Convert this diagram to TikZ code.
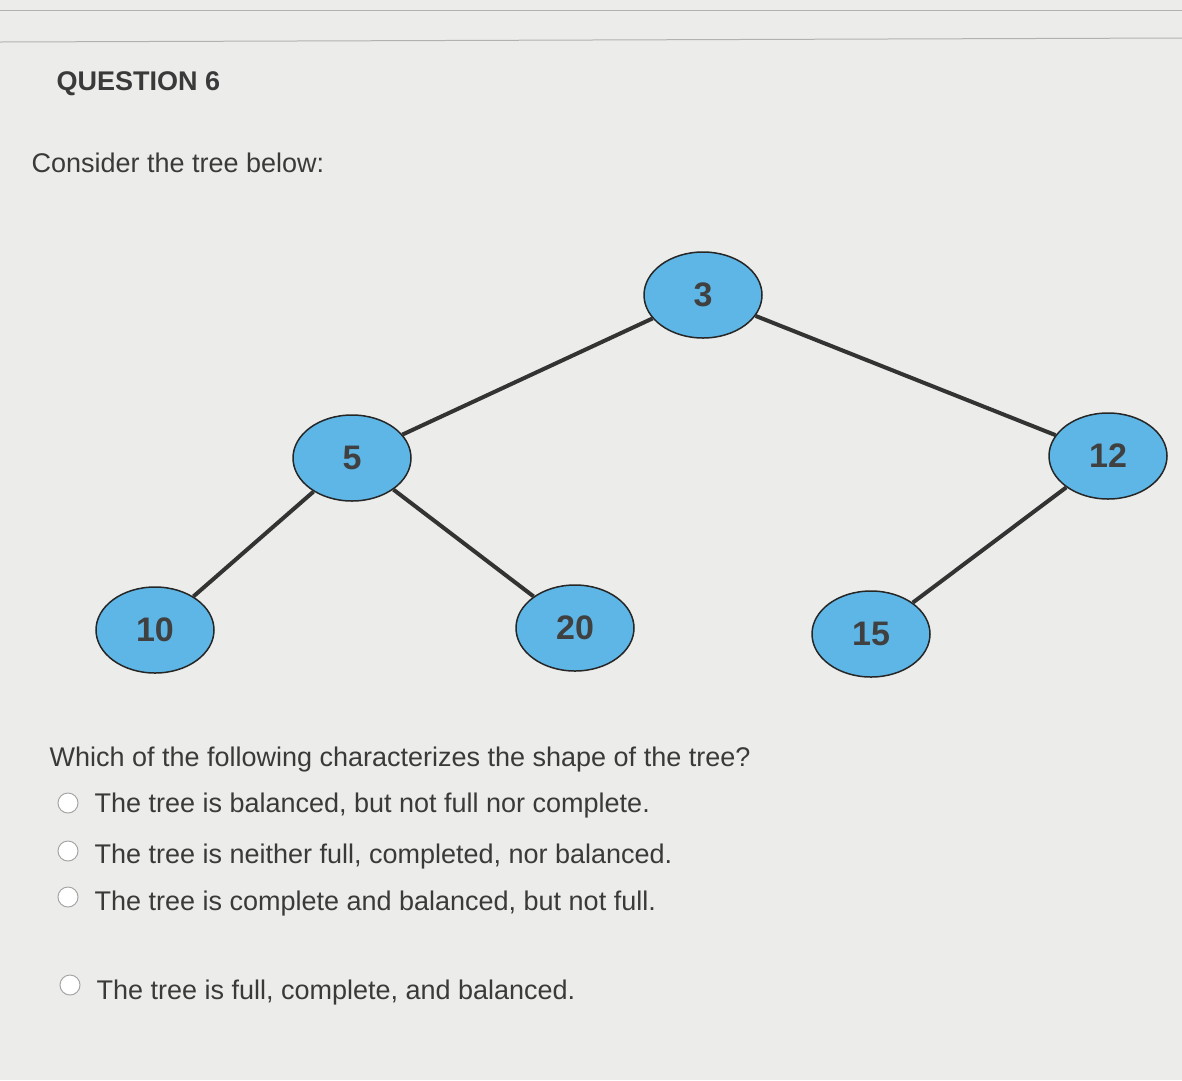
\documentclass[tikz,border=0pt]{standalone}
\usepackage{fontspec}
\setmainfont{Liberation Sans}
\usetikzlibrary{shapes.geometric}
\definecolor{nodefill}{HTML}{5DB6E6}
\definecolor{bg}{HTML}{ECECEA}
\definecolor{txt}{HTML}{3A3A3A}
\begin{document}
\begin{tikzpicture}[x=1pt,y=-1pt,
  tn/.style={ellipse,draw=black!85,line width=1.5pt,fill=nodefill,minimum width=118pt,minimum height=86pt,inner sep=0pt,font=\bfseries\fontsize{34}{38}\selectfont,text=black!75},
  edge/.style={line width=4pt,draw=black!80},
  opt/.style={anchor=west,font=\fontsize{27}{32}\selectfont,text=txt},
  radio/.style={circle,draw=black!35,line width=1pt,fill=white,minimum size=20pt,inner sep=0pt}]
\fill[bg] (0,0) rectangle (1182,1080);
\useasboundingbox (0,0) rectangle (1182,1080);
\draw[black!30,line width=1pt] (0,10) -- (1182,10);
\draw[black!30,line width=1pt] (0,42) -- (1182,38);
\node[anchor=west,font=\bfseries\fontsize{27}{30}\selectfont,text=txt] (q) at (53,84) {QUESTION 6};
\node[anchor=west,font=\fontsize{27}{30}\selectfont,text=txt] (c) at (28,163) {Consider the tree below:};
\node[tn] (n3) at (703,295) {3};
\node[tn] (n5) at (352,458) {5};
\node[tn] (n12) at (1108,456) {12};
\node[tn] (n10) at (155,630) {10};
\node[tn] (n20) at (575,628) {20};
\node[tn] (n15) at (871,634) {15};
\draw[edge] (n3) -- (n5);
\draw[edge] (n3) -- (n12);
\draw[edge] (n5) -- (n10);
\draw[edge] (n5) -- (n20);
\draw[edge] (n12) -- (n15);
\node[opt] (w) at (46,760) {Which of the following characterizes the shape of the tree?};
\node[radio] (r1) at (68,803) {}; \node[opt] (o1) at (91,806) {The tree is balanced, but not full nor complete.};
\node[radio] (r2) at (68,851) {}; \node[opt] (o2) at (91,856) {The tree is neither full, completed, nor balanced.};
\node[radio] (r3) at (68,897) {}; \node[opt] (o3) at (91,903) {The tree is complete and balanced, but not full.};
\node[radio] (r4) at (70,985) {}; \node[opt] (o4) at (93,992) {The tree is full, complete, and balanced.};
\end{tikzpicture}
\end{document}
